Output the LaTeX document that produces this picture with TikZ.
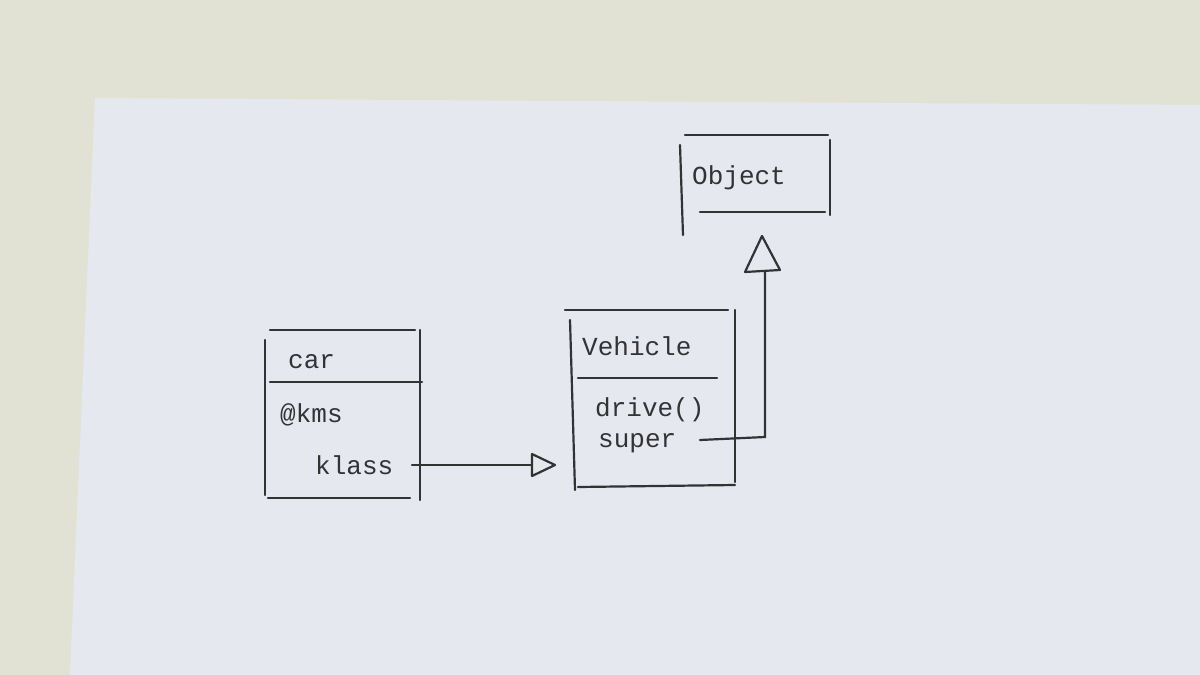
\documentclass[tikz,border=0pt]{standalone}
\usepackage{fontspec}
\setmainfont{Liberation Mono}
\begin{document}
\begin{tikzpicture}[x=1pt,y=-1pt,
  pen/.style={draw=black!80, line width=2.2pt, line cap=round},
  lbl/.style={font=\fontsize{26}{28}\selectfont, text=black!80, anchor=west, inner sep=0},
  tri/.style={pen, fill=paperc, line join=round}]
\definecolor{bgc}{RGB}{226,226,212}
\definecolor{paperc}{RGB}{230,232,240}
\useasboundingbox (0,0) rectangle (1200,675);
\fill[bgc] (0,0) rectangle (1200,675);
\fill[paperc] (95,98) -- (1200,105) -- (1200,675) -- (70,675) -- cycle;
% car
\draw[pen] (265,340) -- (265,495);
\draw[pen] (420,330) -- (420,500);
\draw[pen] (270,330) -- (415,330);
\draw[pen] (270,382) -- (422,382);
\draw[pen] (268,498) -- (410,498);
\node[lbl] (car) at (288,362) {car};
\node[lbl] (kms) at (280,415) {@kms};
\node[lbl] (klass) at (315,465) {klass};
% vehicle
\draw[pen] (570,320) -- (575,490);
\draw[pen] (735,310) -- (735,482);
\draw[pen] (565,310) -- (728,310);
\draw[pen] (578,378) -- (717,378);
\draw[pen] (578,487) -- (735,485);
\node[lbl] (veh) at (582,346) {Vehicle};
\node[lbl] (drive) at (595,410) {drive()};
\node[lbl] (super) at (598,443) {super};
% object
\draw[pen] (680,145) -- (683,235);
\draw[pen] (830,140) -- (830,215);
\draw[pen] (685,135) -- (828,135);
\draw[pen] (700,212) -- (825,212);
\node[lbl] (obj) at (692,178) {Object};
% arrows
\coordinate (a1) at (412,465);
\coordinate (a2) at (532,465);
\draw[pen] (a1) -- (a2);
\draw[tri] (532,454) -- (555,465) -- (532,476) -- cycle;
\coordinate (b1) at (700,440);
\coordinate (b2) at (765,437);
\coordinate (b3) at (765,272);
\draw[pen] (b1) -- (b2) -- (b3);
\draw[tri] (745,272) -- (762,236) -- (780,270) -- cycle;
\end{tikzpicture}
\end{document}
